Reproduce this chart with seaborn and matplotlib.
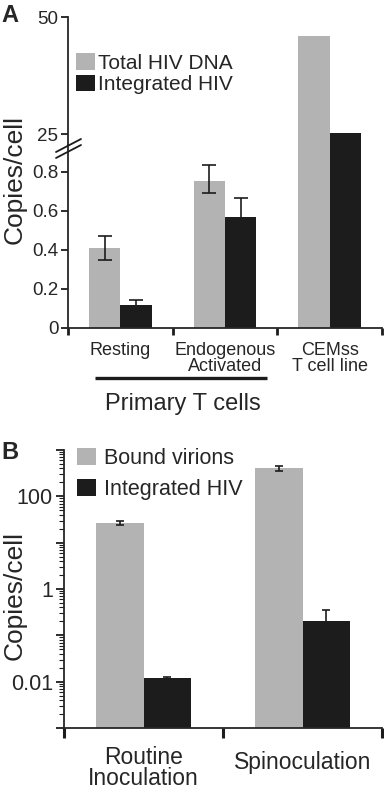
import numpy as np
import pandas as pd
import matplotlib.pyplot as plt
import seaborn as sns
from matplotlib.patches import Patch
from matplotlib.lines import Line2D

sns.set_theme(style='ticks')
plt.rcParams['font.family'] = ['Liberation Sans', 'DejaVu Sans']

# Panel A data
cells = ['Resting', 'Endogenous\nActivated', 'CEMss\nT cell line']
series_a = ['Total HIV DNA', 'Integrated HIV']
total_dna = [0.41, 0.755, 46.0]
total_lo = [0.35, 0.69, np.nan]
total_hi = [0.47, 0.835, np.nan]
integrated_a = [0.12, 0.57, 25.3]
integ_a_lo = [0.095, 0.475, np.nan]
integ_a_hi = [0.145, 0.665, np.nan]

# Panel B data
methods = ['Routine\nInoculation', 'Spinoculation']
series_b = ['Bound virions', 'Integrated HIV']
bound = [27.0, 400.0]
bound_lo = [24.5, 355.0]
bound_hi = [30.0, 450.0]
integrated_b = [0.012, 0.20]
integ_b_lo = [0.011, 0.12]
integ_b_hi = [0.0129, 0.35]

gray = '#b3b3b3'
dark = '#1c1c1c'
palette = [gray, dark]

W, H = 384, 792
fig = plt.figure(figsize=(W / 100, H / 100), dpi=100)


def frac(x0, y_top, x1, y_bot):
    return [x0 / W, 1 - y_bot / H, (x1 - x0) / W, (y_bot - y_top) / H]


df_a = pd.DataFrame({
    'cell': cells * 2,
    'series': [series_a[0]] * 3 + [series_a[1]] * 3,
    'value': total_dna + integrated_a,
})
df_b = pd.DataFrame({
    'method': methods * 2,
    'series': [series_b[0]] * 2 + [series_b[1]] * 2,
    'value': bound + integrated_b,
})

# ---------- Panel A (broken axis) ----------
ax_lo = fig.add_axes(frac(68, 145, 382, 328))
ax_up = fig.add_axes(frac(68, 17, 382, 145), sharex=ax_lo)

for ax in (ax_lo, ax_up):
    sns.barplot(data=df_a, x='cell', y='value', hue='series', palette=palette,
                width=0.6, errorbar=None, legend=False, saturation=1,
                linewidth=0, ax=ax)
    ax.set_xlabel('')
    ax.set_ylabel('')


def add_err(ax, xs, vals, lo, hi, capsize):
    for x, v, l, h in zip(xs, vals, lo, hi):
        if np.isnan(l):
            continue
        ax.errorbar([x], [v], yerr=[[v - l], [h - v]], fmt='none', ecolor=dark,
                    elinewidth=1.2, capsize=capsize, capthick=1.2, zorder=5)


idx = np.arange(len(cells))
add_err(ax_lo, idx - 0.15, total_dna, total_lo, total_hi, 4.8)
add_err(ax_lo, idx + 0.15, integrated_a, integ_a_lo, integ_a_hi, 4.8)

ax_lo.set_ylim(0, 0.938)
ax_up.set_ylim(22.65, 50)
ax_lo.set_xlim(-0.5, 2.5)

ax_lo.set_yticks([0, 0.2, 0.4, 0.6, 0.8], ['0', '0.2', '0.4', '0.6', '0.8'])
ax_up.set_yticks([25, 50], ['25', '50'])

for ax in (ax_lo, ax_up):
    for s in ('top', 'right'):
        ax.spines[s].set_visible(False)
    ax.spines['left'].set_linewidth(1.3)
    ax.tick_params(axis='y', length=5, width=1.3, labelsize=13.5, pad=2, color=dark)
ax_lo.spines['bottom'].set_linewidth(1.3)

ax_lo.set_xticks(idx, cells)
ax_lo.set_xticks([-0.5, 0.5, 1.5, 2.5], minor=True)
ax_lo.tick_params(axis='x', which='major', length=0, pad=10, labelsize=13)
ax_lo.tick_params(axis='x', which='minor', length=5, width=2, color=dark)
for lab in ax_lo.get_xticklabels():
    lab.set_linespacing(0.95)

ax_up.spines['bottom'].set_visible(False)
ax_up.tick_params(axis='x', which='both', bottom=False, labelbottom=False)

# break marks on the y axis
for dy in (0, 6):
    fig.add_artist(Line2D([56 / W, 81 / W], [1 - (152 + dy) / H, 1 - (139 + dy) / H],
                          color=dark, lw=1.3))

# Primary T cells bracket
ax_lo.plot([-0.242, 1.40], [-0.273, -0.273], transform=ax_lo.get_xaxis_transform(),
           color=dark, lw=2.4, clip_on=False, solid_capstyle='butt')
ax_lo.text(0.6, -0.415, 'Primary T cells', transform=ax_lo.get_xaxis_transform(),
           ha='center', va='center', fontsize=17)

handles_a = [Patch(facecolor=gray, edgecolor='none', label=series_a[0]),
             Patch(facecolor=dark, edgecolor='none', label=series_a[1])]
ax_up.legend(handles=handles_a, loc='upper left', bbox_to_anchor=(76 / W, 1 - 53 / H),
             bbox_transform=fig.transFigure, frameon=False, fontsize=15,
             handlelength=0.9, handleheight=0.85, handletextpad=0.15,
             labelspacing=0.1, borderpad=0, borderaxespad=0)

fig.text(15 / W, 1 - 180 / H, 'Copies/cell', rotation=90, ha='center', va='center',
         fontsize=19)
fig.text(1 / W, 1 - 4 / H, 'A', fontsize=17, fontweight='bold', ha='left', va='top')

# ---------- Panel B (log axis) ----------
ax_b = fig.add_axes(frac(64, 450, 382, 728))
ax_b.set_yscale('log')
sns.barplot(data=df_b, x='method', y='value', hue='series', palette=palette,
            width=0.6, errorbar=None, legend=False, saturation=1, linewidth=0, ax=ax_b)
ax_b.set_xlabel('')
ax_b.set_ylabel('')

idx_b = np.arange(len(methods))
add_err(ax_b, idx_b - 0.15, bound, bound_lo, bound_hi, 3.0)
add_err(ax_b, idx_b + 0.15, integrated_b, integ_b_lo, integ_b_hi, 3.0)

ax_b.set_ylim(1e-3, 1e3)
ax_b.set_xlim(-0.5, 1.5)
decades = [1e-3, 1e-2, 1e-1, 1, 10, 100, 1000]
ax_b.set_yticks(decades, ['', '0.01', '', '1', '', '100', ''])
minors = [m * d for d in decades[:-1] for m in range(2, 10)]
ax_b.set_yticks(minors, minor=True)
ax_b.tick_params(axis='y', which='major', length=6, width=1.3, labelsize=15.5, pad=2,
                 color=dark)
ax_b.tick_params(axis='y', which='minor', length=3.5, width=0.8, color=dark)
for s in ('top', 'right'):
    ax_b.spines[s].set_visible(False)
ax_b.spines['left'].set_linewidth(1.3)
ax_b.spines['bottom'].set_linewidth(1.3)

ax_b.set_xticks(idx_b, [methods[0], ''])
ax_b.set_xticks([-0.5, 0.5, 1.5], minor=True)
ax_b.tick_params(axis='x', which='major', length=0, pad=13, labelsize=16.5)
ax_b.tick_params(axis='x', which='minor', length=7, width=2.2, color=dark)
for lab in ax_b.get_xticklabels():
    lab.set_linespacing(0.9)
ax_b.text(1, 1 - (763 - 450) / (728 - 450), methods[1], transform=ax_b.get_xaxis_transform(),
          ha='center', va='center', fontsize=16.5)

handles_b = [Patch(facecolor=gray, edgecolor='none', label=series_b[0]),
             Patch(facecolor=dark, edgecolor='none', label=series_b[1])]
ax_b.legend(handles=handles_b, loc='upper left', bbox_to_anchor=(77 / W, 1 - 448 / H),
            bbox_transform=fig.transFigure, frameon=False, fontsize=15.5,
            handlelength=0.9, handleheight=0.85, handletextpad=0.35,
            labelspacing=0.45, borderpad=0, borderaxespad=0)

fig.text(15 / W, 1 - 595 / H, 'Copies/cell', rotation=90, ha='center', va='center',
         fontsize=19)
fig.text(1 / W, 1 - 441 / H, 'B', fontsize=17, fontweight='bold', ha='left', va='top')

fig.savefig('out.png', dpi=100)
